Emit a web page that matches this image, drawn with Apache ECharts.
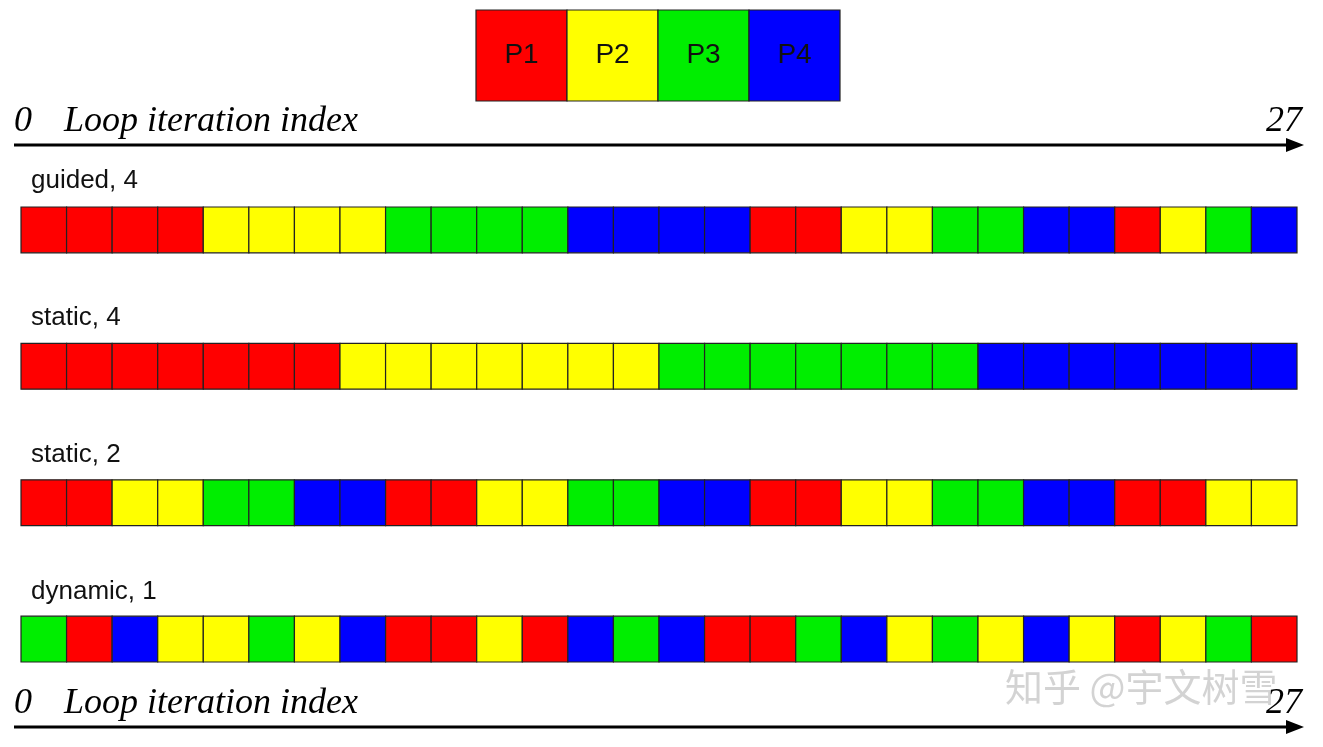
<!DOCTYPE html>
<html>
<head>
<meta charset="utf-8">
<script src="https://cdn.jsdelivr.net/npm/echarts@6/dist/echarts.min.js"></script>
<style>html,body{margin:0;padding:0;background:#fff}#chart{width:1323px;height:747px}</style>
</head>
<body>
<div id="chart"></div>
<script>
// processors and colours
const procs = ["P1", "P2", "P3", "P4"];
const procColors = ["#ff0000", "#ffff00", "#00ee00", "#0000ff"];

// schedule per row: processor index (0..3) for each of the 28 iterations
const rowLabels = ["guided, 4", "static, 4", "static, 2", "dynamic, 1"];
const guided4 = [0,0,0,0,1,1,1,1,2,2,2,2,3,3,3,3,0,0,1,1,2,2,3,3,0,1,2,3];
const static4 = [0,0,0,0,0,0,0,1,1,1,1,1,1,1,2,2,2,2,2,2,2,3,3,3,3,3,3,3];
const static2 = [0,0,1,1,2,2,3,3,0,0,1,1,2,2,3,3,0,0,1,1,2,2,3,3,0,0,1,1];
const dynamic1 = [2,0,3,1,1,2,1,3,0,0,1,0,3,2,3,0,0,2,3,1,2,1,3,1,0,1,2,0];
const rows = [guided4, static4, static2, dynamic1];
const axisStart = "0", axisEnd = "27", axisTitle = "Loop iteration index";

document.addEventListener("DOMContentLoaded", () => {
  const chart = echarts.init(document.getElementById("chart"));
  const cellData = [];
  rows.forEach((r, ri) => r.forEach((p, i) => cellData.push([i, ri, p])));
  const CELL_H = 46 / 137;

  function cell(params, api, h) {
    const a = api.coord([api.value(0), api.value(1)]);
    const b = api.coord([api.value(0) + 1, api.value(1) + h]);
    return {
      type: "rect",
      shape: { x: a[0], y: a[1], width: b[0] - a[0], height: b[1] - a[1] },
      style: { fill: procColors[api.value(2)], stroke: "#222", lineWidth: 1.2 }
    };
  }

  const serif = "'Liberation Serif', 'DejaVu Serif', serif";
  const axisText = (y) => [
    { type: "text", left: 14, top: y, style: { text: axisStart, font: `italic 36px ${serif}`, fill: "#000" } },
    { type: "text", left: 64, top: y, style: { text: axisTitle, font: `italic 36px ${serif}`, fill: "#000" } },
    { type: "text", left: 1266, top: y, style: { text: axisEnd, font: `italic 36px ${serif}`, fill: "#000" } }
  ];
  const arrow = (y) => [
    { type: "line", shape: { x1: 14, y1: y, x2: 1296, y2: y }, style: { stroke: "#000", lineWidth: 3 } },
    { type: "polygon", shape: { points: [[1304, y], [1286, y - 7], [1286, y + 7]] }, style: { fill: "#000" } }
  ];

  chart.setOption({
    animation: false,
    grid: [
      { left: 21, right: 26, top: 207, bottom: 85 },
      { left: 476, top: 10, width: 364, height: 91 }
    ],
    xAxis: [
      { gridIndex: 0, type: "value", min: 0, max: 28, show: false },
      { gridIndex: 1, type: "value", min: 0, max: 4, show: false }
    ],
    yAxis: [
      { gridIndex: 0, type: "value", min: 0, max: rows.length - 1 + CELL_H, inverse: true, show: false },
      { gridIndex: 1, type: "value", min: 0, max: 1, inverse: true, show: false }
    ],
    series: [
      {
        type: "custom", xAxisIndex: 0, yAxisIndex: 0, data: cellData,
        renderItem: (p, api) => cell(p, api, CELL_H)
      },
      {
        type: "custom", xAxisIndex: 1, yAxisIndex: 1,
        data: procs.map((name, i) => [i, 0, i, name]),
        renderItem: (p, api) => {
          const r = cell(p, api, 1);
          return {
            type: "group",
            children: [r, {
              type: "text",
              style: {
                text: api.value(3), x: r.shape.x + r.shape.width / 2, y: r.shape.y + r.shape.height / 2,
                align: "center", verticalAlign: "middle",
                font: "28px 'Liberation Sans', Arial, sans-serif", fill: "#111"
              }
            }]
          };
        }
      }
    ],
    graphic: [
      ...axisText(104), ...arrow(145),
      ...axisText(686), ...arrow(727),
      ...rowLabels.map((t, i) => ({
        type: "text", left: 31, top: 168 + i * 137,
        style: { text: t, font: "26px 'Liberation Sans', Arial, sans-serif", fill: "#111" }
      })),
      { type: "text", left: 1005, top: 668, style: { text: "知乎 @宇文树雪", font: "38px 'Noto Sans CJK SC', sans-serif", fill: "rgba(200,200,200,0.8)" } }
    ]
  });
});
</script>
</body>
</html>
